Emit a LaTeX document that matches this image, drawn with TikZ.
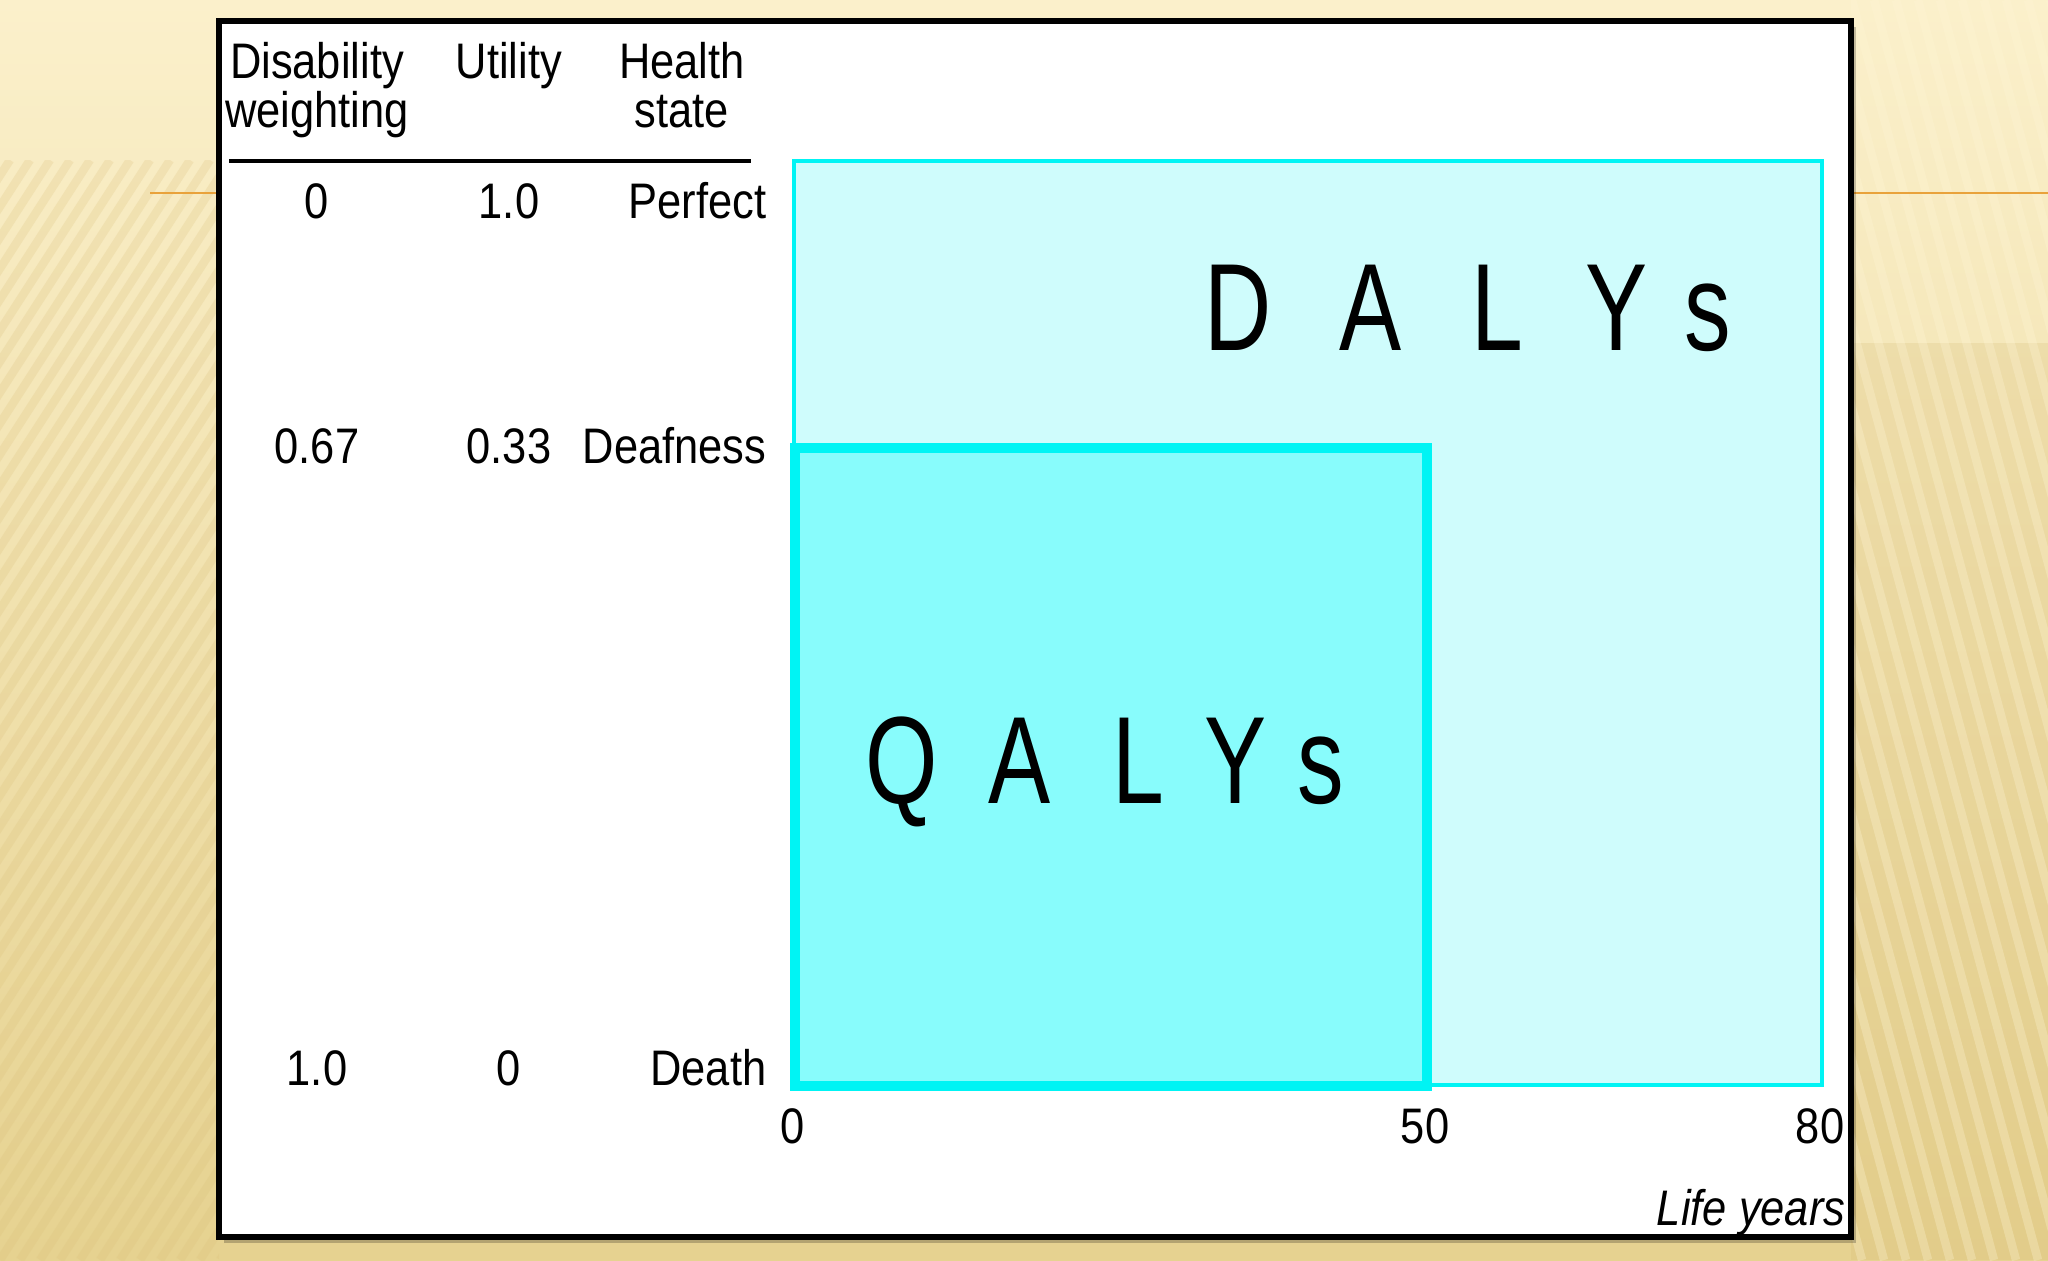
\documentclass[tikz,border=0pt]{standalone}
\usepackage{fontspec}
\setmainfont{Liberation Sans}[FakeStretch=0.87]
\newfontfamily\bigfont{Liberation Sans}[FakeStretch=0.75]
\definecolor{bgtop}{HTML}{FBF0CB}
\definecolor{bgbot}{HTML}{E6D290}
\definecolor{stripedark}{HTML}{D9BE78}
\definecolor{stripelight}{HTML}{FFF6D6}
\definecolor{orangeline}{HTML}{E9A23B}
\definecolor{dalyfill}{HTML}{CFFCFC}
\definecolor{qalyfill}{HTML}{88FCFC}
\definecolor{cyanline}{HTML}{00F4F4}
\tikzset{
  lbl/.style={inner sep=0pt, anchor=base, font=\fontsize{14.2}{17}\selectfont},
  lblr/.style={lbl, anchor=base east},
  bigword/.style={inner sep=0pt, anchor=base west, font=\bigfont\fontsize{35.3}{40}\selectfont},
}
\begin{document}
\begin{tikzpicture}[x=0.01cm,y=-0.01cm]
\useasboundingbox (0,0) rectangle (2048,1260);
% background
\shade[top color=bgtop, bottom color=bgbot] (0,0) rectangle (2048,1260);
\begin{scope}
  \clip (0,160) rectangle (219,1260);
  \foreach \i in {-760,-740,...,240}
    \draw[stripedark, opacity=0.22, line width=2.4pt] (\i,1260) -- (\i+710,160);
\end{scope}
\begin{scope}
  \clip (1851,0) rectangle (2048,1260);
  \fill[stripedark, opacity=0.25] (1851,343) rectangle (2048,1260);
  \foreach \i in {1500,1522,...,2060}
    \draw[stripelight, opacity=0.3, line width=2.4pt] (\i,0) -- (\i+340,1260);
\end{scope}
\draw[orangeline, line width=0.6pt] (150,193) -- (219,193);
\draw[orangeline, line width=0.7pt] (1851,193) -- (2048,193);
% frame
\fill[black, opacity=0.22] (224,27) rectangle (1856,1243);
\draw[black, fill=white, line width=1.7pt] (219,21) rectangle (1851,1237);
% header
\node[lbl] (hdis) at (317,78) {Disability};
\node[lbl] (hwei) at (317,127) {weighting};
\node[lbl] (huti) at (509,78) {Utility};
\node[lbl] (hhea) at (682,78) {Health};
\node[lbl] (hsta) at (682,127) {state};
\draw[black, line width=0.9pt] (229,161) -- (751,161);
% rows
\node[lbl] (r1a) at (317,218) {0};
\node[lbl] (r1b) at (509,218) {1.0};
\node[lblr] (r1c) at (767,218) {Perfect};
\node[lbl] (r2a) at (317,463) {0.67};
\node[lbl] (r2b) at (509,463) {0.33};
\node[lblr] (r2c) at (767,463) {Deafness};
\node[lbl] (r3a) at (317,1085) {1.0};
\node[lbl] (r3b) at (509,1085) {0};
\node[lblr] (r3c) at (767,1085) {Death};
% areas
\draw[cyanline, fill=dalyfill, line width=1.1pt] (794,161) rectangle (1822,1085);
\draw[cyanline, fill=qalyfill, line width=3.1pt] (795,448) rectangle (1427,1086);
\node[bigword] (dalys) at (1237,350) {\makebox[0pt]{D}\hspace{13.3mm}\makebox[0pt]{A}\hspace{12.7mm}\makebox[0pt]{L}\hspace{11.9mm}\makebox[0pt]{Y}\hspace{9.1mm}\makebox[0pt]{s}};
\node[bigword] (qalys) at (901,803) {\makebox[0pt]{Q}\hspace{11.8mm}\makebox[0pt]{A}\hspace{11.9mm}\makebox[0pt]{L}\hspace{9.7mm}\makebox[0pt]{Y}\hspace{8.5mm}\makebox[0pt]{s}};
% axis labels
\node[lbl] (x0) at (793,1143) {0};
\node[lbl] (x50) at (1425,1143) {50};
\node[lbl] (x80) at (1820,1143) {80};
\node[lblr, font=\fontsize{14.2}{17}\selectfont\itshape] (ly) at (1846,1225) {Life years};
\end{tikzpicture}
\end{document}
